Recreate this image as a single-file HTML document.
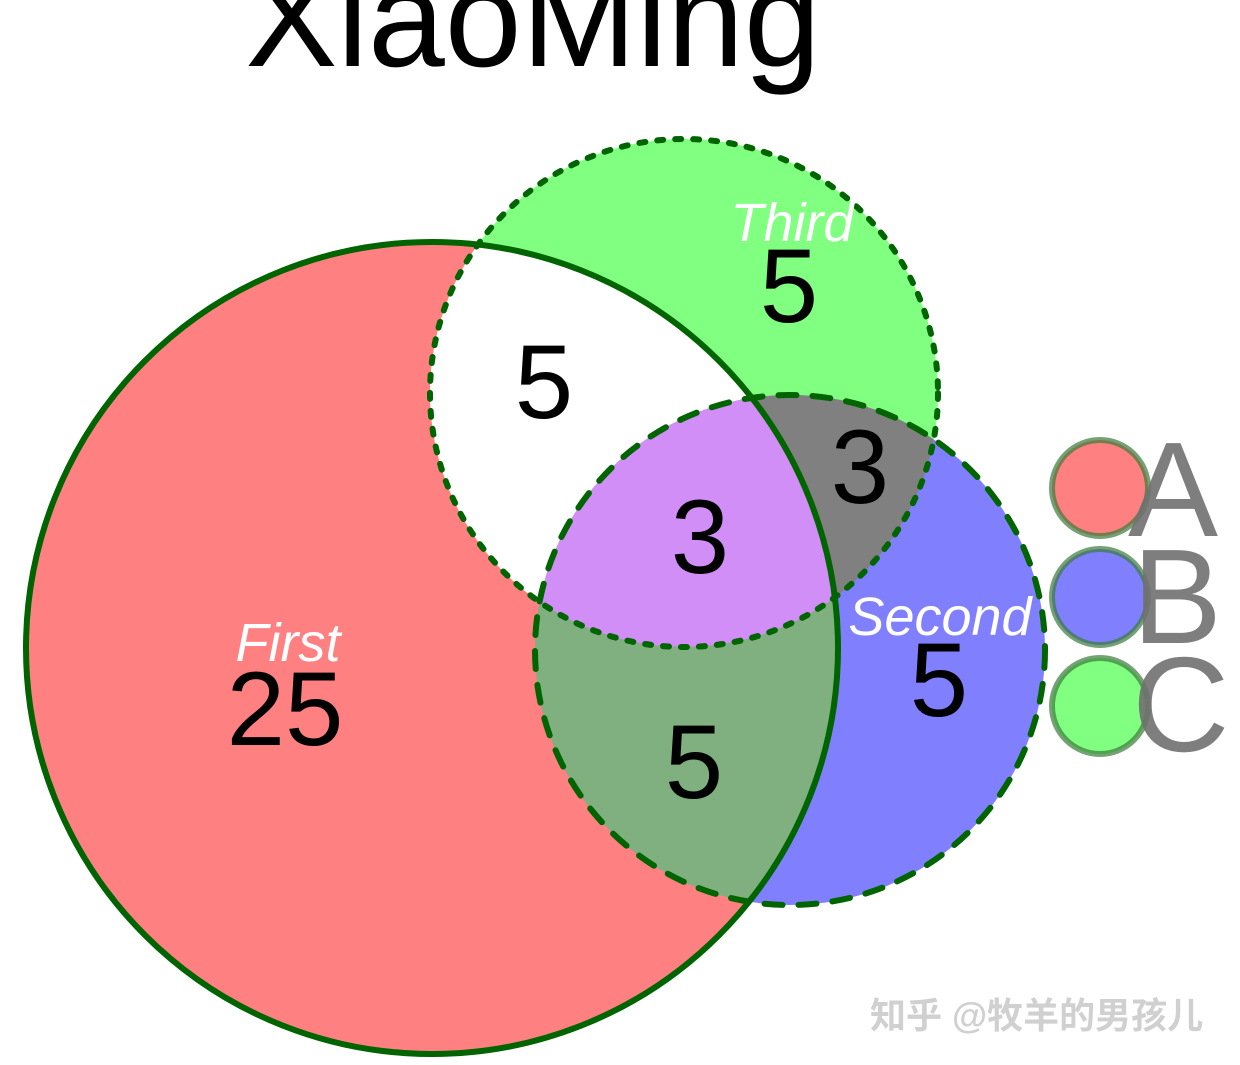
<!DOCTYPE html>
<html><head><meta charset="utf-8"><style>
html,body{margin:0;padding:0;background:#fff;width:1240px;height:1065px;overflow:hidden}
</style></head><body>
<svg width="1240" height="1065" viewBox="0 0 1240 1065" xmlns="http://www.w3.org/2000/svg" font-family="Liberation Sans, sans-serif">
<defs>
<clipPath id="cR"><circle cx="432" cy="648" r="406"/></clipPath>
<clipPath id="cG"><circle cx="684" cy="393" r="254"/></clipPath>
<clipPath id="cB"><circle cx="790" cy="650" r="255"/></clipPath>
</defs>
<text x="533" y="66" font-size="138" text-anchor="middle" fill="#000">XiaoMing</text>
<circle cx="432" cy="648" r="406" fill="#ff8080"/>
<circle cx="684" cy="393" r="254" fill="#80ff80"/>
<circle cx="790" cy="650" r="255" fill="#8080ff"/>
<g clip-path="url(#cR)"><circle cx="684" cy="393" r="254" fill="#ffffff"/></g>
<g clip-path="url(#cR)"><circle cx="790" cy="650" r="255" fill="#80b080"/></g>
<g clip-path="url(#cG)"><circle cx="790" cy="650" r="255" fill="#808080"/></g>
<g clip-path="url(#cR)"><g clip-path="url(#cG)"><circle cx="790" cy="650" r="255" fill="#d08ef6"/></g></g>
<circle cx="432" cy="648" r="406" fill="none" stroke="#006400" stroke-width="6"/>
<circle cx="684" cy="393" r="254" fill="none" stroke="#006400" stroke-width="6" stroke-dasharray="6 12" stroke-linecap="round"/>
<circle cx="790" cy="650" r="255" fill="none" stroke="#006400" stroke-width="6" stroke-dasharray="18 16" stroke-linecap="round"/>
<g font-size="105" text-anchor="middle" fill="#000">
<text x="285" y="745">25</text>
<text x="544" y="418">5</text>
<text x="789" y="322">5</text>
<text x="860" y="503">3</text>
<text x="700" y="573">3</text>
<text x="694" y="798">5</text>
<text x="939" y="716">5</text>
</g>
<g font-size="54" font-style="italic" fill="#fff" text-anchor="middle">
<text x="792" y="241">Third</text>
<text x="288" y="661">First</text>
<text x="940" y="635">Second</text>
</g>
<g stroke="#3a7a3a" stroke-opacity="0.7" stroke-width="6">
<circle cx="1100" cy="488" r="48" fill="#ff8080"/>
<circle cx="1100" cy="597" r="48" fill="#8080ff"/>
<circle cx="1100" cy="706" r="48" fill="#80ff80"/>
</g>
<g font-size="135" fill="#707070" fill-opacity="0.9">
<text x="1128" y="536">A</text>
<text x="1132" y="643">B</text>
<text x="1132" y="751">C</text>
</g>
<text x="870" y="1028" font-size="36" font-weight="bold" fill="#d0d0d0" font-family="Liberation Sans, Noto Sans CJK SC, sans-serif">知乎 @牧羊的男孩儿</text>
</svg>
</body></html>
